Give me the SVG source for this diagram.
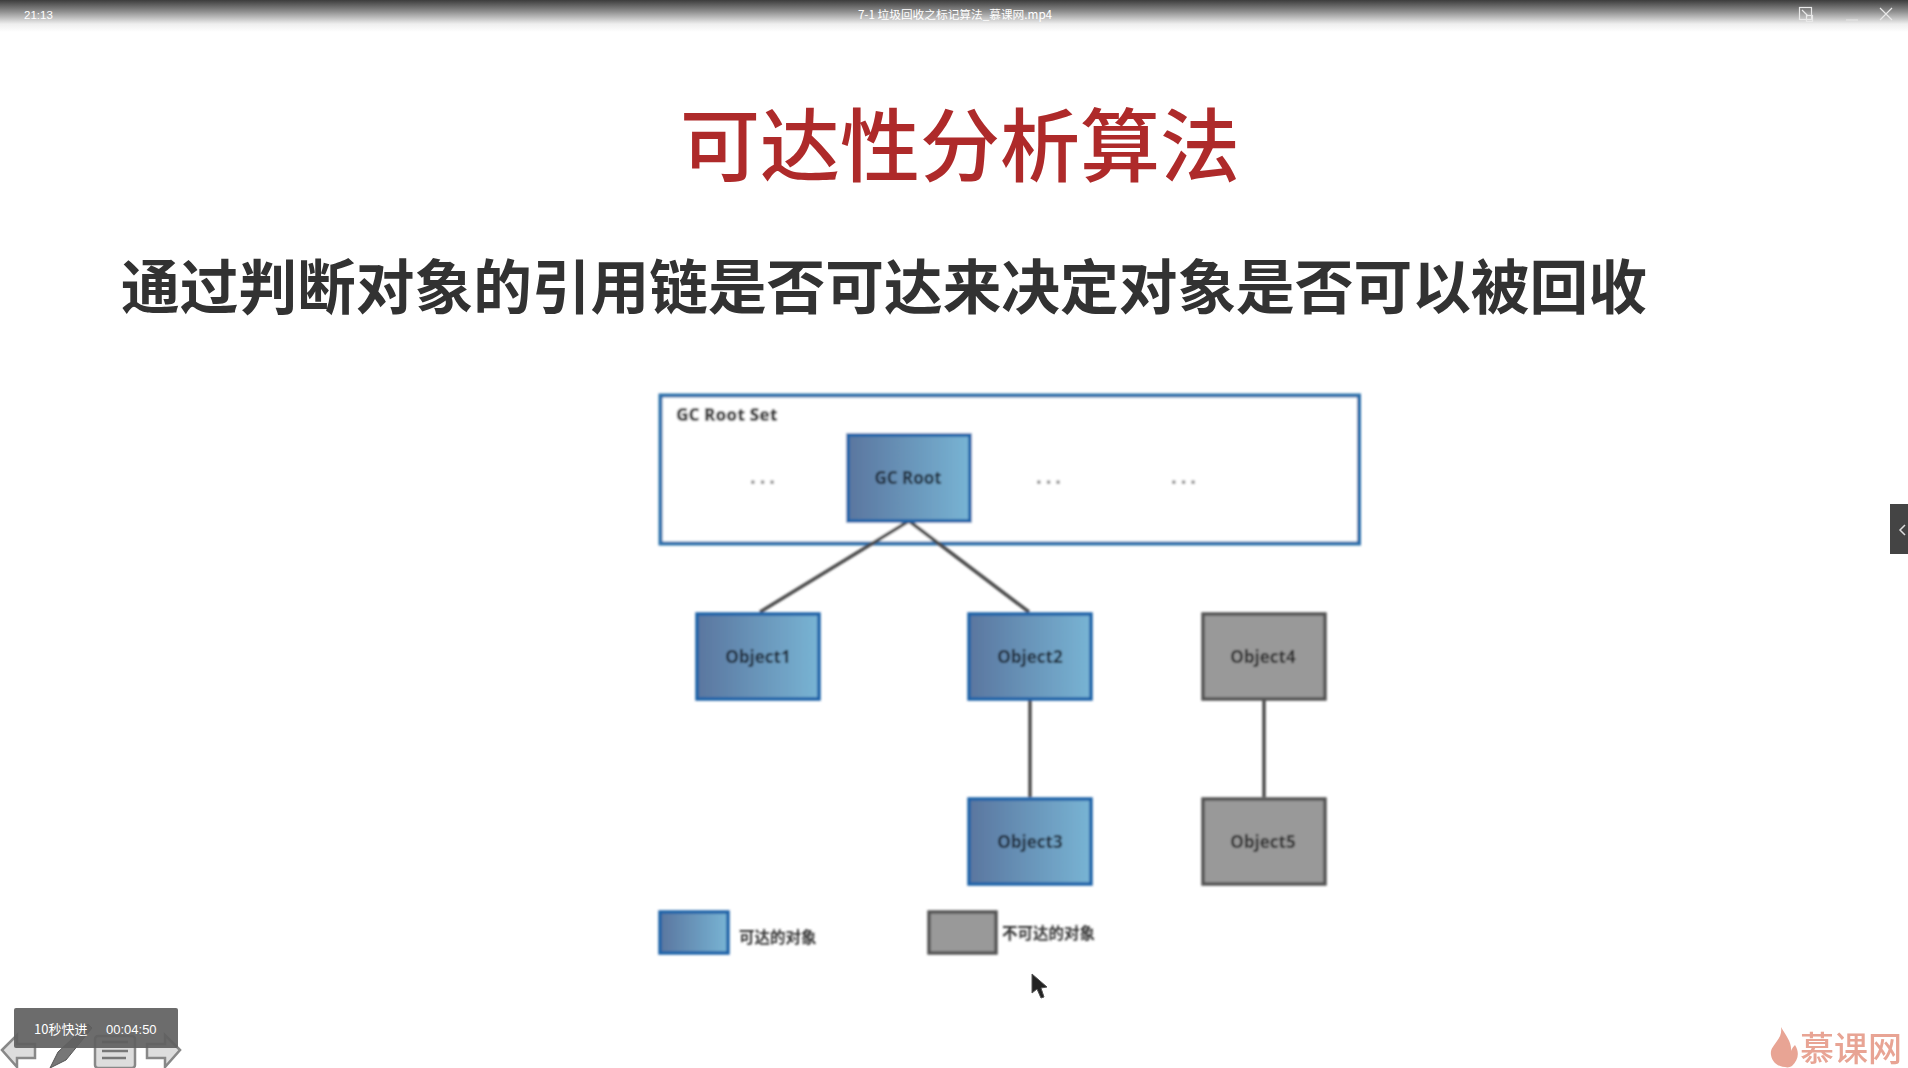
<svg xmlns="http://www.w3.org/2000/svg" width="1908" height="1068" viewBox="0 0 1908 1068">
<style>
text{font-family:"Liberation Sans","Noto Sans CJK SC",sans-serif}
.cjk{font-family:"Noto Sans CJK SC","Liberation Sans",sans-serif}
.lab{font-size:17px;font-weight:700;fill:#1f2a38;text-anchor:middle;font-family:"Open Sans","Noto Sans",sans-serif}
.set{font-size:17px;font-weight:800;fill:#3a3a3a;font-family:"Open Sans","Noto Sans",sans-serif}
.glab{fill:#2e2e2e}
.blue{fill:url(#bg);stroke:#1f63a8;stroke-width:3.5}
.gray{fill:#999;stroke:#555;stroke-width:3.5}
.line{stroke:#4c4c4c;stroke-width:3.5;fill:none}
.dots{font-size:24px;fill:#999;text-anchor:middle;font-weight:700;letter-spacing:3px}
.ctl{fill:none;stroke:#e8e8e8;stroke-width:1.2}
.leg{font-size:15.5px;font-weight:700;fill:#333}
.arrow{fill:#ddd;stroke:#888;stroke-width:2.5}
</style>
<defs>
<linearGradient id="bg"><stop offset="0" stop-color="#5a769f"/><stop offset="1" stop-color="#78b4d4"/></linearGradient>
<linearGradient id="top" x1="0" y1="0" x2="0" y2="1"><stop offset="0" stop-color="#3c3c3c"/><stop offset=".35" stop-color="#8c8c8c"/><stop offset=".75" stop-color="#eeeeee"/><stop offset="1" stop-color="#fff"/></linearGradient>
<filter id="soft" x="-5%" y="-5%" width="110%" height="110%"><feGaussianBlur stdDeviation="0.8"/></filter>
<filter id="soft2" x="-5%" y="-5%" width="110%" height="110%"><feGaussianBlur stdDeviation="0.6"/></filter>
</defs>
<rect width="1908" height="1068" fill="#fff"/>
<rect id="topbar" width="1908" height="32" fill="url(#top)"/>
<text x="24" y="19" font-size="11.500" fill="#fff">21:13</text>
<text x="955" y="19" font-size="11.700" fill="#fff" text-anchor="middle" class="cjk">7-1 垃圾回收之标记算法_慕课网.mp4</text>
<g id="window-controls">
<rect class="ctl" x="1799.500" y="7.500" width="12" height="12"/>
<rect class="ctl" x="1806.500" y="15.500" width="6" height="6"/>
<path class="ctl" d="M1802 10l6 6M1846 20h12M1880 8l12 12M1892 8l-12 12"/>
</g>
<text id="title" x="960" y="175" font-size="80" font-weight="500" fill="#ae2b2b" text-anchor="middle" class="cjk" filter="url(#soft2)">可达性分析算法</text>
<text id="subtitle" x="884" y="309" font-size="58.700" font-weight="700" fill="#303030" text-anchor="middle" class="cjk" filter="url(#soft2)">通过判断对象的引用链是否可达来决定对象是否可以被回收</text>
<g filter="url(#soft)">
<g id="gc-root-set">
<rect x="660.500" y="395.500" width="698.500" height="148" fill="#fff" stroke="#2f70aa" stroke-width="4"/>
<text class="set" x="676" y="421">GC Root Set</text>
<text class="dots" x="764" y="484">...</text>
<text class="dots" x="1050" y="484">...</text>
<text class="dots" x="1185" y="484">...</text>
</g>
<g id="connectors">
<path class="line" d="M909 521L760 612M909 521L1029 612M1030 700V797M1264 700V797"/>
</g>
<g id="gc-root"><rect class="blue" x="848" y="435" width="122" height="86"/><text class="lab" x="908" y="484">GC Root</text></g>
<g id="object1"><rect class="blue" x="697" y="614" width="122" height="85"/><text class="lab" x="758" y="663">Object1</text></g>
<g id="object2"><rect class="blue" x="969" y="614" width="122" height="85"/><text class="lab" x="1030" y="663">Object2</text></g>
<g id="object4"><rect class="gray" x="1203" y="614" width="122" height="85"/><text class="lab glab" x="1263" y="663">Object4</text></g>
<g id="object3"><rect class="blue" x="969" y="799" width="122" height="85"/><text class="lab" x="1030" y="848">Object3</text></g>
<g id="object5"><rect class="gray" x="1203" y="799" width="122" height="85"/><text class="lab glab" x="1263" y="848">Object5</text></g>
<g id="legend-reachable"><rect class="blue" x="660" y="912" width="68" height="41"/><text class="leg cjk" x="739" y="943">可达的对象</text></g>
<g id="legend-unreachable"><rect class="gray" x="929" y="912" width="67" height="41"/><text class="leg cjk" x="1002" y="939">不可达的对象</text></g>
</g>
<path id="cursor" d="M1032 974l0 19 5-4 4 9 3-1-3-9 6-1z" fill="#222" stroke="#555" stroke-width="1"/>
<g id="player-icons" filter="url(#soft2)">
<path class="arrow" d="M2 1050l15-15v9h18v14h-18v9z"/>
<path d="M50 1068l8-16 30-28 4 4-26 32z" fill="#777" stroke="#555"/>
<rect class="arrow" x="95" y="1036" width="40" height="32" rx="3"/>
<path d="M102 1042h26M102 1051h26M102 1058h24" stroke="#777" stroke-width="2.500" fill="none"/>
<path class="arrow" d="M180 1050l-15-15v9h-18v14h18v9z"/>
</g>
<g id="player-tip">
<rect x="14" y="1008" width="164" height="40" rx="2" fill="#5f5f5f" fill-opacity=".92"/>
<text x="34" y="1034" font-size="13" fill="#fff" class="cjk">10秒快进</text>
<text x="106" y="1034" font-size="13" fill="#fff">00:04:50</text>
</g>
<g id="side-tab">
<path d="M1890 504h18v50h-18z" fill="#444"/>
<path d="M1905 525l-5 5 5 5" fill="none" stroke="#ddd" stroke-width="1.500"/>
</g>
<g id="watermark" filter="url(#soft2)">
<path d="M1781 1027c5 9 11 15 10 24 1-3 3-5 4-6 5 8 3 15-3 21-2 1-4 2-7 1-7 0-13-5-14-12-1-6 3-9 6-14 3-4 5-8 4-14z" fill="#e8a494"/>
<text x="1800" y="1061" font-size="34" font-weight="500" fill="#e8a494" class="cjk">慕课网</text>
</g>
</svg>
